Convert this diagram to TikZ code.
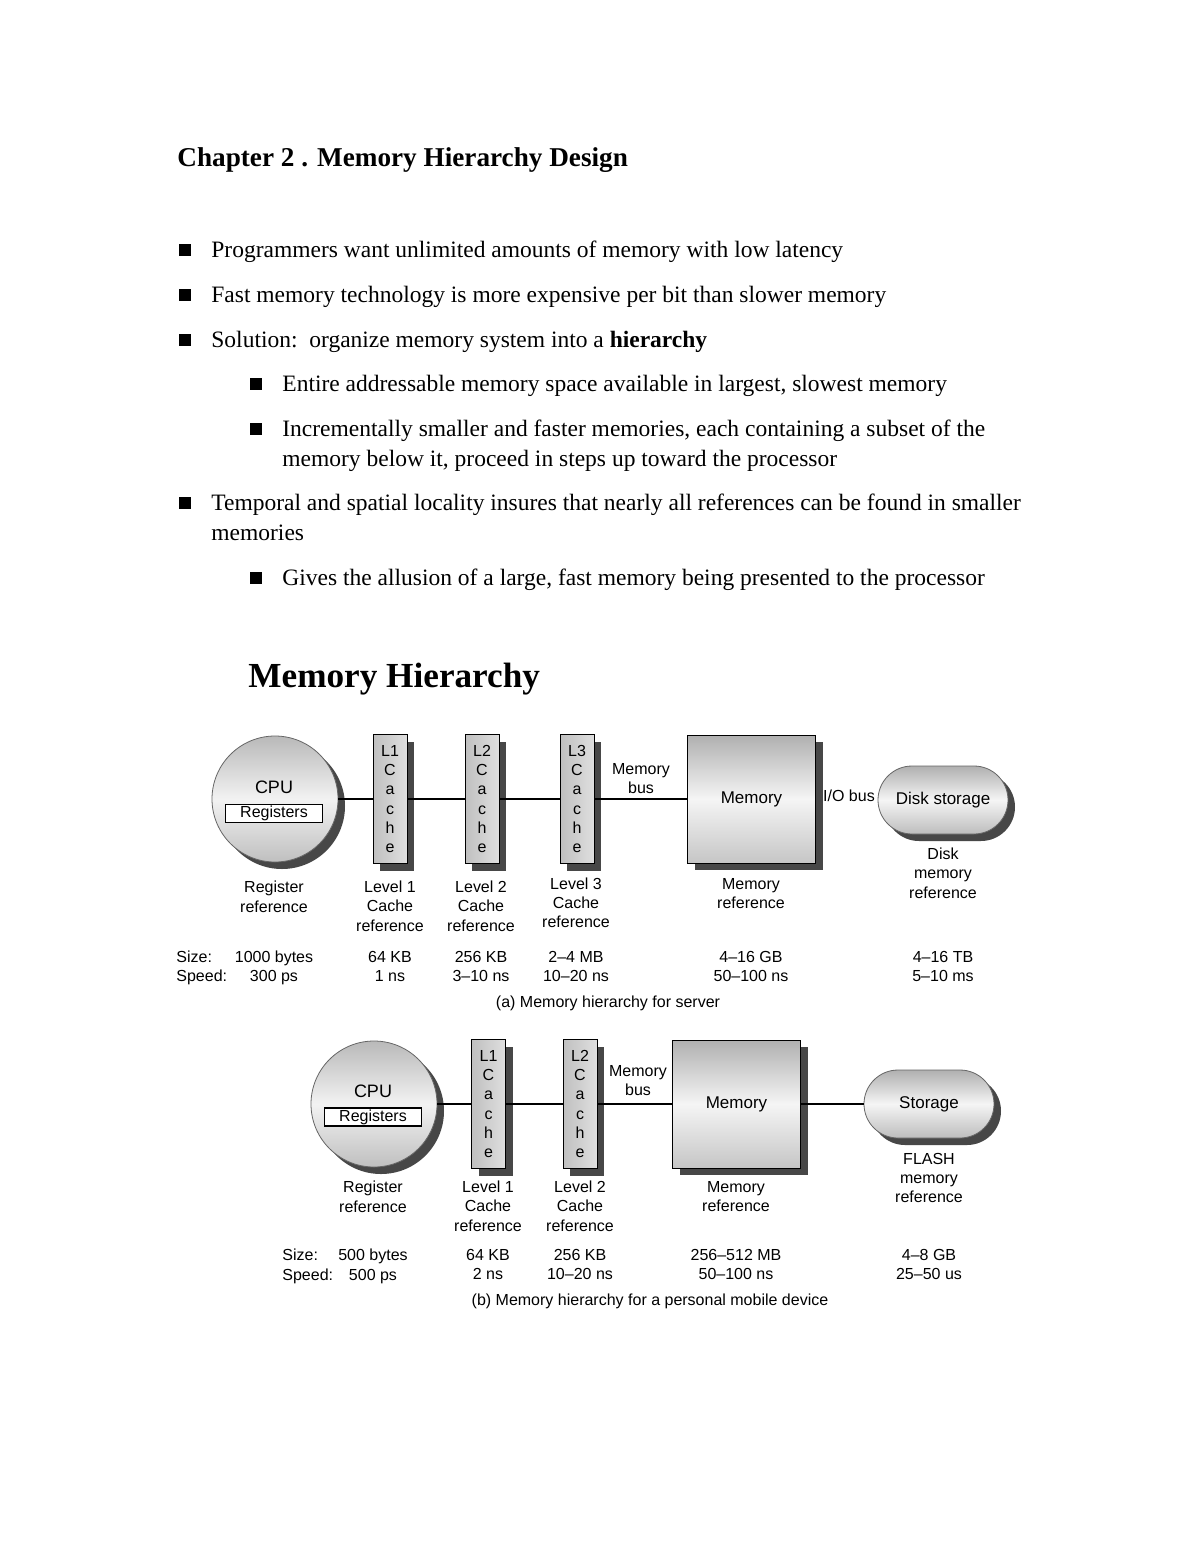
\documentclass[tikz,border=0pt]{standalone}
\usepackage{fontspec}
\setmainfont{Liberation Serif}
\newfontfamily\diagfont[Ligatures=TeX]{Liberation Sans}
\usetikzlibrary{shapes.misc,shadows}
\begin{document}
\begin{tikzpicture}[x=0.5pt,y=-0.5pt,
  body/.style={font=\fontsize{11.75}{14}\selectfont, anchor=base west, inner sep=0},
  bul/.style={fill=black, draw=none, minimum size=6pt, inner sep=0, anchor=south west},
  lab/.style={font=\diagfont\fontsize{8}{9.6}\selectfont, align=center, inner sep=0,
    execute at begin node=\strut, execute at end node=\strut},
  labl/.style={font=\diagfont\fontsize{8}{9.6}\selectfont, align=left, inner sep=0, anchor=west,
    execute at begin node=\strut, execute at end node=\strut},
  shad/.style={drop shadow={shadow xshift=3.5pt, shadow yshift=-3.5pt, fill=black!72, opacity=1}},
  cachebox/.style={draw=black, line width=0.5pt, minimum width=17pt, minimum height=64.5pt,
    inner sep=0, left color=gray!50, right color=gray!25, shad,
    font=\diagfont\fontsize{8}{9.6}\selectfont, align=center},
  cpubox/.style={circle, draw=black!60, line width=0.4pt, minimum size=63pt, inner sep=0,
    shading angle=135, top color=gray!55, bottom color=gray!50, middle color=gray!10, shad},
  regbox/.style={draw=black, line width=0.6pt, fill=white, minimum width=48.5pt, minimum height=9pt,
    inner sep=0, font=\diagfont\fontsize{8}{9.6}\selectfont},
  membox/.style={draw=black, line width=0.5pt, minimum width=64pt, minimum height=64pt, inner sep=0,
    shading angle=45, top color=gray!62, bottom color=gray!45, middle color=gray!8, shad,
    font=\diagfont\fontsize{8.5}{10}\selectfont},
  storbox/.style={rounded rectangle, draw=black!60, line width=0.4pt, minimum width=65pt, minimum height=34pt,
    inner sep=0, shading angle=135, top color=gray!62, bottom color=gray!52, middle color=gray!8, shad,
    font=\diagfont\fontsize{8.5}{10}\selectfont},
  conn/.style={line width=1pt, black}
]
\useasboundingbox (0,0) rectangle (1200,1553);
\fill[white] (0,0) rectangle (1200,1553);

% ---------- text part ----------
\node[body, font=\bfseries\fontsize{13.6}{16}\selectfont] (title) at (177,166) {Chapter 2 . Memory Hierarchy Design};

\node[bul] (b1) at (179,256) {};
\node[body] (t1) at (211,257) {Programmers want unlimited amounts of memory with low latency};
\node[bul] (b2) at (179,301) {};
\node[body] (t2) at (211,302) {Fast memory technology is more expensive per bit than slower memory};
\node[bul] (b3) at (179,346) {};
\node[body] (t3) at (211,347) {Solution:\ \ organize memory system into a \textbf{hierarchy}};
\node[bul] (b4) at (250,390) {};
\node[body] (t4) at (282,391) {Entire addressable memory space available in largest, slowest memory};
\node[bul] (b5) at (250,435) {};
\node[body] (t5) at (282,436) {Incrementally smaller and faster memories, each containing a subset of the};
\node[body] (t5b) at (282,466) {memory below it, proceed in steps up toward the processor};
\node[bul] (b6) at (179,509) {};
\node[body] (t6) at (211,510) {Temporal and spatial locality insures that nearly all references can be found in smaller};
\node[body] (t6b) at (211,540) {memories};
\node[bul] (b7) at (250,584) {};
\node[body] (t7) at (282,585) {Gives the allusion of a large, fast memory being presented to the processor};

\node[body, font=\bfseries\fontsize{17.6}{20}\selectfont] (mh) at (248,687) {Memory Hierarchy};

% ---------- diagram (a) ----------
\node[cpubox] (cpuA) at (275,799) {};
\node[lab, font=\diagfont\fontsize{9}{10}\selectfont] (cpuAt) at (274,789) {CPU};
\node[regbox] (regA) at (274,813.5) {Registers};
\node[cachebox] (l1A) at (390,799) {L1\\C\\a\\c\\h\\e};
\node[cachebox] (l2A) at (482,799) {L2\\C\\a\\c\\h\\e};
\node[cachebox] (l3A) at (577,799) {L3\\C\\a\\c\\h\\e};
\node[membox] (memA) at (751.5,799) {Memory};
\node[storbox] (diskA) at (943,800) {Disk storage};
\node[lab] (busA) at (641,781.5) {Memory\\bus};
\node[lab] (ioA) at (849,798) {I/O bus};

\draw[conn] (cpuA.east) -- (l1A.west);
\draw[conn] (l1A.east) -- (l2A.west);
\draw[conn] (l2A.east) -- (l3A.west);
\draw[conn] (l3A.east) -- (memA.west);

\node[lab] (rA1) at (274,899.5) {Register\\reference};
\node[lab] (rA2) at (390,909) {Level 1\\Cache\\reference};
\node[lab] (rA3) at (481,909) {Level 2\\Cache\\reference};
\node[lab] (rA4) at (576,905.5) {Level 3\\Cache\\reference};
\node[lab] (rA5) at (751,896) {Memory\\reference};
\node[lab] (rA6) at (943,876) {Disk\\memory\\reference};

\node[labl] (sA0) at (176,969) {Size:\\Speed:};
\node[lab] (sA1) at (274,969) {1000 bytes\\300 ps};
\node[lab] (sA2) at (390,969) {64 KB\\1 ns};
\node[lab] (sA3) at (481,969) {256 KB\\3–10 ns};
\node[lab] (sA4) at (576,969) {2–4 MB\\10–20 ns};
\node[lab] (sA5) at (751,969) {4–16 GB\\50–100 ns};
\node[lab] (sA6) at (943,969) {4–16 TB\\5–10 ms};
\node[lab] (capA) at (608,1004) {(a) Memory hierarchy for server};

% ---------- diagram (b) ----------
\node[cpubox] (cpuB) at (374,1104) {};
\node[lab, font=\diagfont\fontsize{9}{10}\selectfont] (cpuBt) at (373,1093) {CPU};
\node[regbox] (regB) at (373,1117) {Registers};
\node[cachebox] (l1B) at (488.5,1104) {L1\\C\\a\\c\\h\\e};
\node[cachebox] (l2B) at (580,1104) {L2\\C\\a\\c\\h\\e};
\node[membox] (memB) at (736.5,1104) {Memory};
\node[storbox] (storB) at (929,1104) {Storage};
\node[lab] (busB) at (638,1083.5) {Memory\\bus};

\draw[conn] (cpuB.east) -- (l1B.west);
\draw[conn] (l1B.east) -- (l2B.west);
\draw[conn] (l2B.east) -- (memB.west);
\draw[conn] (memB.east) -- (storB.west);

\node[lab] (rB1) at (373,1199.5) {Register\\reference};
\node[lab] (rB2) at (488,1209) {Level 1\\Cache\\reference};
\node[lab] (rB3) at (580,1209) {Level 2\\Cache\\reference};
\node[lab] (rB4) at (736,1199.5) {Memory\\reference};
\node[lab] (rB5) at (929,1181) {FLASH\\memory\\reference};

\node[labl] (sB0) at (282,1267.5) {Size:\\Speed:};
\node[lab] (sB1) at (373,1267.5) {500 bytes\\500 ps};
\node[lab] (sB2) at (488,1267.5) {64 KB\\2 ns};
\node[lab] (sB3) at (580,1267.5) {256 KB\\10–20 ns};
\node[lab] (sB4) at (736,1267.5) {256–512 MB\\50–100 ns};
\node[lab] (sB5) at (929,1267.5) {4–8 GB\\25–50 us};
\node[lab] (capB) at (650,1302) {(b) Memory hierarchy for a personal mobile device};
\end{tikzpicture}
\end{document}
